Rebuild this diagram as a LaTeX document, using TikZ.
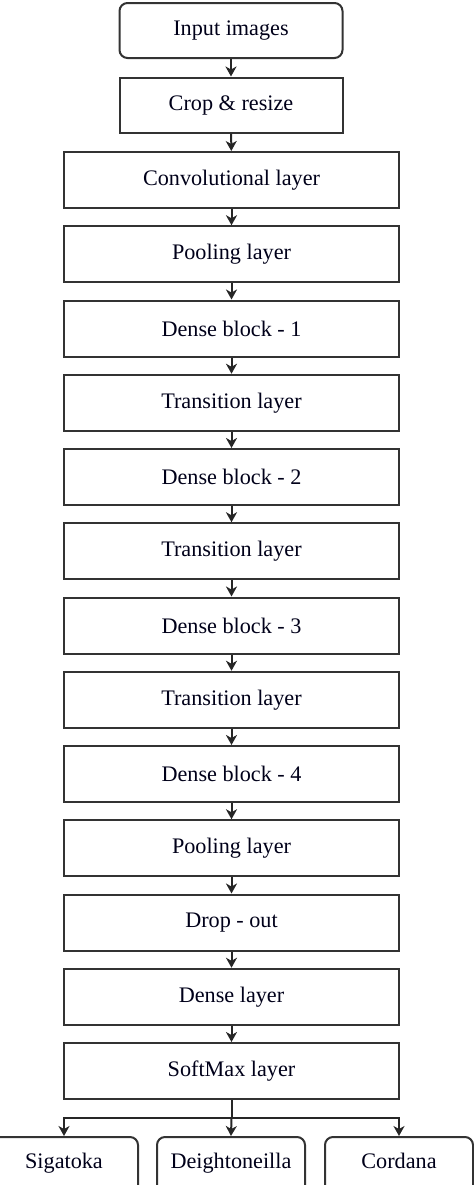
\documentclass[tikz,border=0pt]{standalone}
\usepackage{fontspec}
\setmainfont{Liberation Serif}
\usetikzlibrary{arrows.meta}

\begin{document}
\begin{tikzpicture}[x = 0.5pt, y = -0.5pt,
	box/.style = {draw = black!80, line width = 1pt, text = black!90!blue,
		minimum width = 167.5pt, minimum height = 28pt, inner sep = 0pt,
		font = \fontsize{11.1}{13}\selectfont},
	roundbox/.style = {box, rounded corners = 4pt},
	arr/.style = {draw = black!85, line width = 1pt, -{Stealth[length = 5pt, width = 5.5pt, inset = 1.5pt]}}
]
\clip (0, 0) rectangle (474, 1185);
\node[roundbox, minimum width = 111.5pt, minimum height = 27.5pt] (input) at (231, 30.5) {Input images};
\node[box, minimum width = 111.5pt, minimum height = 27.5pt] (crop) at (231, 105) {Crop \& resize};
\node[box] (conv) at (231.5, 180) {Convolutional layer};
\node[box] (pool1) at (231.5, 254.25) {Pooling layer};
\node[box] (dense1) at (231.5, 328.5) {Dense block - 1};
\node[box] (trans1) at (231.5, 402.75) {Transition layer};
\node[box] (dense2) at (231.5, 477) {Dense block - 2};
\node[box] (trans2) at (231.5, 551.25) {Transition layer};
\node[box] (dense3) at (231.5, 625.5) {Dense block - 3};
\node[box] (trans3) at (231.5, 699.75) {Transition layer};
\node[box] (dense4) at (231.5, 774) {Dense block - 4};
\node[box] (pool2) at (231.5, 848.25) {Pooling layer};
\node[box] (dropout) at (231.5, 922.5) {Drop - out};
\node[box] (denselayer) at (231.5, 996.75) {Dense layer};
\node[box] (softmax) at (231.5, 1071) {SoftMax layer};
% classes, cut by the clip at the bottom
\node[roundbox, minimum width = 74pt, minimum height = 38pt, text depth = 14pt] (sigatoka) at (64, 1175) {Sigatoka};
\node[roundbox, minimum width = 74pt, minimum height = 38pt, text depth = 14pt] (deighton) at (231, 1175) {Deightoneilla};
\node[roundbox, minimum width = 74pt, minimum height = 38pt, text depth = 14pt] (cordana) at (399, 1175) {Cordana};

\draw[arr] (input) -- (crop);
\draw[arr] (crop) -- (conv);
\draw[arr] (conv) -- (pool1);
\draw[arr] (pool1) -- (dense1);
\draw[arr] (dense1) -- (trans1);
\draw[arr] (trans1) -- (dense2);
\draw[arr] (dense2) -- (trans2);
\draw[arr] (trans2) -- (dense3);
\draw[arr] (dense3) -- (trans3);
\draw[arr] (trans3) -- (dense4);
\draw[arr] (dense4) -- (pool2);
\draw[arr] (pool2) -- (dropout);
\draw[arr] (dropout) -- (denselayer);
\draw[arr] (denselayer) -- (softmax);
\draw[draw = black!85, line width = 1pt] (softmax.south) -- ++(0, 18) coordinate (split);
\draw[arr] (split) -| (sigatoka.north);
\draw[arr] (split) -- (deighton.north);
\draw[arr] (split) -| (cordana.north);
\end{tikzpicture}
\end{document}
